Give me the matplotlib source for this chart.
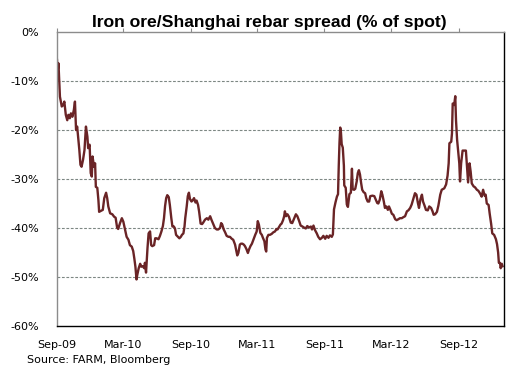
import numpy as np
import pandas as pd
import matplotlib
matplotlib.use('Agg')
import matplotlib.pyplot as plt
import matplotlib.dates as mdates
from matplotlib.ticker import FuncFormatter, MultipleLocator

# spread data: days since start date, value in % of spot
start_date = '2009-09-01'
end_date = '2013-01-03'

day_offset = [
    0, 2, 4, 6, 8, 13, 17, 20, 24, 28,
    31, 35, 38, 42, 46, 49, 52, 55, 58, 61,
    64, 67, 71, 75, 79, 83, 85, 89, 92, 95,
    97, 101, 104, 106, 110, 113, 115, 120, 125, 129,
    134, 137, 140, 145, 151, 156, 160, 164, 167, 172,
    177, 181, 186, 190, 195, 199, 204, 208, 211, 214,
    217, 219, 223, 227, 230, 234, 238, 240, 243, 247,
    250, 254, 257, 260, 265, 268, 272, 277, 281, 285,
    289, 292, 295, 298, 301, 305, 308, 312, 315, 319,
    322, 325, 330, 334, 338, 341, 345, 348, 350, 354,
    357, 360, 363, 367, 370, 374, 378, 381, 385, 388,
    392, 396, 399, 404, 409, 413, 418, 422, 427, 431,
    436, 440, 445, 448, 451, 455, 459, 463, 468, 472,
    477, 481, 486, 490, 492, 495, 499, 502, 506, 510,
    513, 517, 521, 524, 528, 532, 536, 541, 545, 548,
    551, 555, 559, 562, 566, 569, 571, 573, 577, 581,
    586, 590, 595, 599, 602, 606, 610, 613, 617, 620,
    622, 625, 629, 633, 638, 642, 647, 652, 656, 661,
    665, 670, 674, 679, 683, 688, 693, 696, 700, 704,
    709, 713, 718, 723, 727, 732, 736, 741, 745, 750,
    753, 756, 760, 764, 767, 769, 771, 773, 775, 777,
    780, 783, 784, 788, 791, 794, 798, 802, 805, 807,
    811, 814, 818, 821, 824, 827, 830, 833, 837, 841,
    844, 848, 852, 855, 861, 866, 870, 874, 877, 881,
    885, 888, 892, 895, 899, 903, 906, 910, 914, 918,
    923, 927, 932, 936, 941, 945, 950, 955, 959, 964,
    968, 973, 977, 981, 985, 988, 992, 996, 999, 1003,
    1007, 1012, 1016, 1021, 1025, 1028, 1032, 1037, 1041, 1046,
    1050, 1057, 1062, 1066, 1069, 1071, 1076, 1078, 1080, 1084,
    1087, 1089, 1092, 1095, 1098, 1100, 1103, 1107, 1112, 1116,
    1119, 1122, 1126, 1129, 1132, 1137, 1141, 1146, 1150, 1155,
    1159, 1163, 1167, 1170, 1173, 1178, 1181, 1185, 1188, 1193,
    1198, 1201, 1204, 1206, 1209, 1211, 1214, 1216,
]

spread_pct = [
    -5.7, -7.8, -6.4, -9.8, -13.2, -15.2, -14.9, -14.2, -16.9, -18.0,
    -16.9, -17.6, -16.6, -17.3, -15.9, -14.2, -20.0, -19.3, -21.7, -24.1,
    -27.1, -27.5, -26.1, -24.1, -19.3, -21.4, -23.7, -23.0, -28.8, -29.5,
    -25.4, -27.5, -26.8, -31.6, -31.8, -34.3, -36.7, -36.5, -36.3, -33.9,
    -32.8, -33.9, -35.6, -37.0, -37.2, -37.7, -37.9, -39.9, -40.2, -39.0,
    -38.0, -38.7, -40.4, -41.8, -42.4, -43.5, -43.8, -44.7, -46.2, -47.9,
    -50.5, -49.6, -48.2, -47.3, -47.9, -47.8, -48.2, -47.1, -49.1, -44.1,
    -41.1, -40.7, -43.5, -43.7, -43.5, -42.1, -42.1, -42.3, -41.6, -40.7,
    -39.6, -38.0, -35.5, -33.9, -33.3, -33.7, -35.3, -38.0, -39.7, -39.7,
    -40.1, -41.4, -41.8, -42.1, -41.8, -41.4, -41.1, -39.7, -38.0, -35.6,
    -33.5, -32.8, -34.1, -34.6, -34.4, -33.9, -34.8, -34.4, -35.3, -36.7,
    -39.1, -39.2, -38.9, -38.3, -38.0, -38.3, -37.6, -38.4, -39.3, -40.0,
    -40.3, -40.3, -40.0, -39.0, -39.3, -40.3, -40.9, -41.6, -41.8, -41.8,
    -42.2, -42.4, -43.4, -44.8, -45.6, -45.1, -43.4, -43.2, -43.2, -43.4,
    -43.7, -44.3, -45.1, -44.4, -43.7, -43.2, -42.4, -41.4, -40.7, -38.6,
    -39.3, -41.0, -41.4, -42.0, -42.7, -44.4, -44.8, -42.0, -41.4, -41.4,
    -41.2, -40.9, -40.7, -40.2, -40.3, -39.8, -39.3, -39.1, -38.4, -37.6,
    -36.6, -37.6, -37.2, -37.7, -38.9, -39.0, -38.1, -37.2, -37.6, -38.6,
    -39.5, -39.7, -39.9, -40.1, -39.6, -39.9, -39.7, -40.3, -39.5, -40.4,
    -41.1, -41.8, -42.3, -42.0, -41.6, -42.2, -41.6, -42.0, -41.5, -41.8,
    -41.3, -36.2, -34.8, -33.6, -33.1, -27.3, -22.6, -19.5, -20.5, -22.9,
    -23.6, -27.3, -31.3, -31.8, -35.2, -35.7, -33.1, -32.8, -27.9, -32.1,
    -32.2, -32.0, -30.5, -28.8, -28.2, -29.1, -30.8, -32.2, -32.7, -32.9,
    -33.9, -34.6, -34.6, -33.5, -33.4, -33.5, -34.2, -34.9, -35.0, -34.2,
    -32.5, -33.2, -34.6, -35.9, -35.6, -36.3, -35.6, -36.3, -37.1, -37.3,
    -38.2, -38.4, -38.2, -38.0, -38.0, -37.8, -37.6, -36.6, -36.4, -35.9,
    -35.2, -33.9, -32.9, -33.2, -34.9, -35.9, -34.1, -33.2, -34.6, -35.4,
    -36.3, -36.4, -35.6, -35.9, -36.6, -37.3, -37.2, -36.7, -35.4, -33.2,
    -32.2, -31.9, -31.1, -29.3, -26.8, -22.7, -22.4, -20.7, -14.6, -14.9,
    -13.1, -18.0, -22.0, -24.4, -26.8, -30.5, -26.8, -24.2, -24.2, -24.2,
    -27.4, -30.7, -26.8, -28.5, -30.9, -31.5, -31.7, -32.2, -32.4, -33.0,
    -33.6, -32.2, -33.4, -33.2, -35.0, -35.3, -37.1, -39.2, -41.1, -41.4,
    -42.3, -43.3, -45.0, -47.1, -47.1, -48.2, -47.3, -47.8,
]

title = 'Iron ore/Shanghai rebar spread (% of spot)'
source = 'Source: FARM, Bloomberg'

dates = pd.to_datetime(start_date) + pd.to_timedelta(day_offset, unit='D')

fig = plt.figure(figsize=(5.15, 3.75), dpi=100)
ax = fig.add_axes([57/515, 1-326/375, (504-57)/515, (326-32)/375])

ax.plot(dates, spread_pct, color='#6a2426', lw=1.7, solid_joinstyle='round')

ax.set_ylim(-60, 0)
ax.yaxis.set_major_locator(MultipleLocator(10))
ax.yaxis.set_major_formatter(FuncFormatter(lambda v, p: '%d%%' % round(v)))
ax.set_xlim(pd.to_datetime(start_date), pd.to_datetime(end_date))
ax.xaxis.set_major_locator(mdates.MonthLocator(bymonth=[3, 9]))
ax.xaxis.set_major_formatter(mdates.DateFormatter('%b-%y'))

#gridlines
for v in [-10, -20, -30, -40, -50]:
    ax.axhline(v, color='#7d8783', lw=0.8, ls=(0, (2.5, 1.5)), zorder=0)

#spines like the excel chart
ax.spines['left'].set_color('#8c8c8c')
ax.spines['top'].set_color('#8c8c8c')
ax.spines['right'].set_color('black')
ax.spines['bottom'].set_color('black')
for s in ax.spines.values():
    s.set_linewidth(1.0)

ax.tick_params(axis='y', length=0, pad=13, labelsize=8, labelcolor='black')
ax.tick_params(axis='x', bottom=False, top=True, labelbottom=True, labeltop=False,
               direction='out', length=3, color='#8c8c8c', pad=7, labelsize=8)

fig.text(269.5/515, 1-27.5/375, title, ha='center', va='baseline',
         fontsize=12.6, fontweight='bold', family='Liberation Sans')
fig.text(27/515, 1-360/375, source, ha='left', va='center', fontsize=8)

fig.savefig('out.png', dpi=100)
